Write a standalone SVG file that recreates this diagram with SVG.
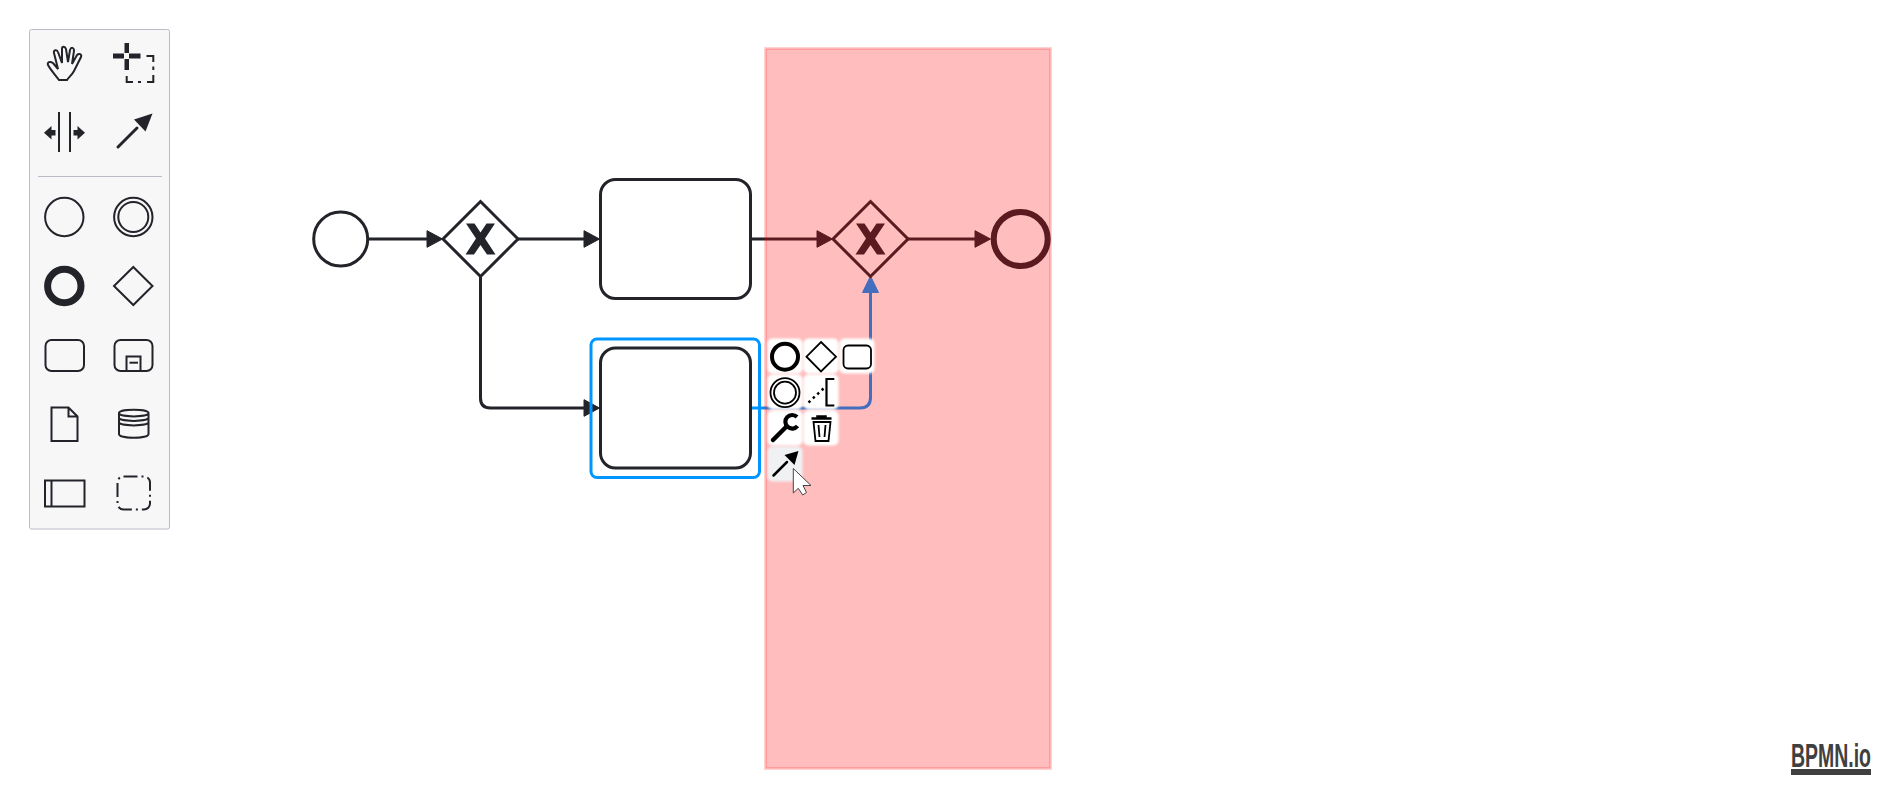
<svg xmlns="http://www.w3.org/2000/svg" width="1892" height="796" viewBox="0 0 1892 796">
<style>
.task{fill:#fff;stroke:#22242a;stroke-width:3}
.ev{fill:#fff;stroke:#22242a;stroke-width:3}
.gw{fill:#fff;stroke:#22242a;stroke-width:3}
.x{fill:#22242a}
.flow{fill:none;stroke:#22242a;stroke-width:3;stroke-linejoin:round}
.head{fill:#22242a;stroke:#22242a;stroke-width:1}
.ic{fill:none;stroke:#22242a;stroke-width:2}
.icf{fill:#22242a;stroke:none}
.cp{fill:none;stroke:#000;stroke-width:1.8}
.pad{fill:#fff}
</style>
<defs>
<filter id="halo" x="-30%" y="-30%" width="160%" height="160%"><feGaussianBlur stdDeviation="1.3"/></filter>
<path id="xm" d="M-14.500-15.500H-6L0-6.500 6-15.500H14.500L4.500-.5 15 15.500H6.500L0 6-6.500 15.500H-15L-4.500-.5Z"/>
</defs>
<rect width="1892" height="796" fill="#fff"/>
<g id="connectors">
<path class="flow" d="M368 239H430"/><path class="head" d="M442.500 239 427 230.700V247.300Z"/>
<path class="flow" d="M518 239H587"/><path class="head" d="M599.500 239 584 230.700V247.300Z"/>
<path class="flow" d="M750 239H820"/><path class="head" d="M832.500 239 817 230.700V247.300Z"/>
<path class="flow" d="M908 239H978"/><path class="head" d="M990.500 239 975 230.700V247.300Z"/>
<path class="flow" d="M480.500 276V398Q480.500 408 490.500 408H587"/><path class="head" d="M599.500 408 584 399.700V416.300Z"/>
<path fill="none" stroke="#0095ff" stroke-width="3" d="M751 408H860Q870.500 408 870.500 397.500V285"/><path fill="#0095ff" stroke="#0095ff" stroke-width="1" d="M870.500 276 862.500 292.500H878.500Z"/>
</g>
<g id="StartEvent"><circle class="ev" cx="340.700" cy="239" r="27"/></g>
<g id="Gateway1"><path class="gw" d="M480.500 201.500 518 239 480.500 276.500 443 239Z"/><use href="#xm" x="480.500" y="239" class="x"/></g>
<g id="Task1"><rect class="task" x="600.500" y="179.500" width="150" height="119" rx="15"/></g>
<g id="Task2"><rect class="task" x="600.500" y="348" width="150" height="120" rx="15"/><rect x="591" y="339" width="168.500" height="138.500" rx="6" fill="none" stroke="#0095ff" stroke-width="3"/></g>
<g id="Gateway2"><path class="gw" d="M870.500 201.500 908 239 870.500 276.500 833 239Z"/><use href="#xm" x="870.500" y="239" class="x"/></g>
<g id="EndEvent"><circle cx="1020.700" cy="239" r="27" fill="#fff" stroke="#22242a" stroke-width="6"/></g>
<g id="Overlay"><rect x="765.500" y="48.500" width="285" height="720" fill="#ff0000" fill-opacity=".26" stroke="#ff0000" stroke-opacity=".18" stroke-width="3"/></g>
<g id="ContextPad">
<g filter="url(#halo)" class="pad">
<rect x="767.500" y="338.500" width="35" height="35" rx="5"/><rect x="803.500" y="338.500" width="35" height="35" rx="5"/><rect x="839.500" y="338.500" width="35" height="35" rx="5"/>
<rect x="767.500" y="374.500" width="35" height="35" rx="5"/><rect x="803.500" y="374.500" width="35" height="35" rx="5"/>
<rect x="767.500" y="410.500" width="35" height="35" rx="5"/><rect x="803.500" y="410.500" width="35" height="35" rx="5"/>
<rect x="767.500" y="446.500" width="35" height="35" rx="5" fill="#f0f1f3"/>
</g>
<circle cx="785" cy="356.700" r="13" fill="none" stroke="#000" stroke-width="4"/>
<path class="cp" d="M821 342 836 356.700 821 371.500 806.500 356.700Z"/>
<rect class="cp" x="843.500" y="345.500" width="27.500" height="23" rx="4.500"/>
<circle class="cp" cx="785" cy="392.700" r="14.500" stroke-width="1.500"/><circle class="cp" cx="785" cy="392.700" r="11" stroke-width="1.500"/>
<path d="M834.300 379H826.500V405.500H834.300" fill="none" stroke="#000" stroke-width="2.200"/>
<path d="M808.500 402.500 823.500 388.500" fill="none" stroke="#000" stroke-width="2.500" stroke-dasharray="2.500 3.500"/>
<path d="M773 440 785.500 427.500" fill="none" stroke="#000" stroke-width="4.500" stroke-linecap="round"/>
<path d="M797 417A6.800 6.800 0 1 0 797.500 426" fill="none" stroke="#000" stroke-width="4.200"/>
<path d="M811.500 418.500H831.500" stroke="#000" stroke-width="2.500"/><path d="M817 416H826V418H817Z" fill="#000" stroke="#000" stroke-width="1.500"/>
<path class="cp" d="M813.500 422 815.500 441H828.500L830.500 422Z" stroke-width="2.200"/><path class="cp" d="M818.500 425 819.500 437M825.500 425 824.500 437" stroke-width="1.500"/>
<path d="M773.500 475.500 787 462" fill="none" stroke="#000" stroke-width="2.500" stroke-linecap="round"/><path d="M798.500 451 784.500 455 794.500 465Z" fill="#000"/>
<path d="M793.300 468.500V493L798.300 488.300 802.700 495 806.500 492.500 803 485.500H811Z" fill="#fff" stroke="#444" stroke-width="1"/>
</g>
<g id="Palette">
<rect x="29.500" y="29.500" width="140" height="499.500" rx="2" fill="#f7f7f8" stroke="#b9bcc6"/>
<path class="ic" d="M67 80H59C56 76 50 69 48 65 47 62 50 61 53 63L58 69 54 53C53 50 57 49 58 52L62 63 62 49C62 46 65 46 66 49L68 62 70 50C71 47 74 47 74 51L72 64 77 55C79 53 82 54 81 57L74 71C72 75 69 77 67 80Z"/>
<path class="icf" d="M113 53.500H124V58.500H113ZM129 53.500H140.500V58.500H129ZM124.500 43H129V53H124.500ZM124.500 59H129V70H124.500Z"/>
<path class="ic" d="M146.500 56H153.300V62M153.300 66.500V70M153.300 75V82H147M141 82H138M133 82H126.700V76" />
<path d="M59 112V152M70 112V152" fill="none" stroke="#22242a" stroke-width="2"/>
<path class="icf" d="M44 132.700 51.500 126V130H55.500V135.500H51.500V139.500ZM85 132.700 77.500 126V130H73.500V135.500H77.500V139.500Z"/>
<path d="M118 147 137 128" fill="none" stroke="#22242a" stroke-width="3" stroke-linecap="round"/><path class="icf" d="M152.500 113.500 134 119.500 145.500 131.500Z"/>
<path d="M38 176.500H162" stroke="#b9bcc6" stroke-width="1"/>
<circle class="ic" cx="64.300" cy="217" r="19.200"/>
<circle class="ic" cx="133.300" cy="217" r="19.200"/><circle class="ic" cx="133.300" cy="217" r="15"/>
<circle cx="64.300" cy="286" r="16.700" fill="none" stroke="#22242a" stroke-width="7"/>
<path class="ic" d="M133.300 267 152.500 286 133.300 305 114 286Z"/>
<rect class="ic" x="45.500" y="340" width="38.500" height="31" rx="6"/>
<rect class="ic" x="114.500" y="340" width="38" height="31" rx="6"/>
<path class="ic" d="M126.500 371V356.500H140.500V371"/><path d="M129.500 362.700H138" stroke="#22242a" stroke-width="2"/>
<path class="ic" d="M51.500 407.500H68.500L77.500 416.500V441H51.500ZM68.500 407.500V416.500H77.500"/>
<path class="ic" d="M119 413C119 408.500 148.500 408.500 148.500 413V434C148.500 439 119 439 119 434ZM119 413C119 417.500 148.500 417.500 148.500 413M119 417.500C119 422 148.500 422 148.500 417.500M119 422C119 426.500 148.500 426.500 148.500 422"/>
<rect class="ic" x="45" y="480.500" width="39.500" height="26"/><path class="ic" d="M51.500 480.500V506.500"/>
<rect class="ic" x="117.500" y="476.500" width="32.500" height="33" rx="6" stroke-dasharray="14 4 2 4"/>
</g>
<g id="Logo">
<text transform="translate(1791 767) scale(.59 1)" font-family="'Liberation Sans',sans-serif" font-weight="700" font-size="33" fill="#404040">BPMN.io</text>
<rect x="1791" y="769" width="80" height="6" fill="#404040"/>
</g>
</svg>
